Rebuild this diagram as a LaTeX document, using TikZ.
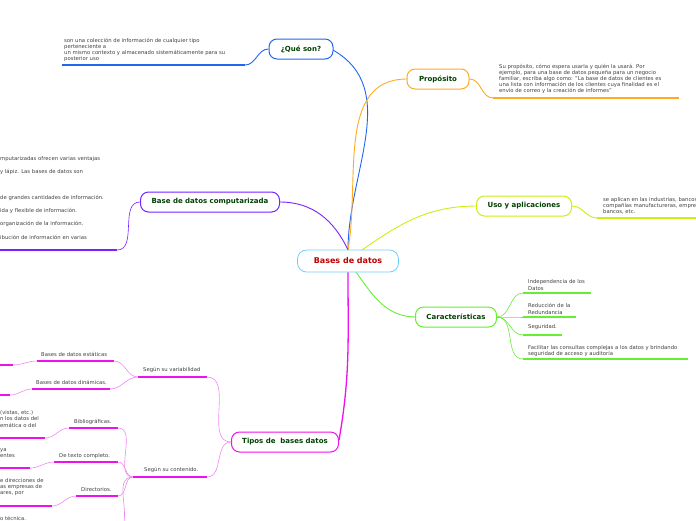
\documentclass[tikz,border=0pt]{standalone}
\usepackage{fontspec}
\setmainfont{DejaVu Sans}
\begin{document}
\begin{tikzpicture}[x=1pt,y=-1pt,
 topic/.style={draw=#1,line width=1pt,rounded corners=8pt,fill=white,minimum height=20pt,font=\fontsize{7}{8}\selectfont\bfseries,text=green!25!black},
 leaf/.style={font=\fontsize{5.3}{6.2}\selectfont,text=black!75,align=left,anchor=west,inner sep=0pt},
 ul/.style={draw=#1,line width=1.6pt},
 con/.style={draw=#1,line width=0.9pt}]
\useasboundingbox (0,0) rectangle (696,520);
\clip (0,0) rectangle (696,520);
\definecolor{cb}{HTML}{2266EE}
\definecolor{co}{HTML}{FFAA22}
\definecolor{cy}{HTML}{CCEE11}
\definecolor{cg}{HTML}{66EE33}
\definecolor{cp}{HTML}{7722FF}
\definecolor{cm}{HTML}{EE11EE}
\definecolor{cl}{HTML}{F388F3}
\coordinate (c) at (348,261);
% leaf coords
\coordinate (q1) at (245,65); \coordinate (q0) at (62,65);
\coordinate (p1) at (493,98); \coordinate (p2) at (679,98);
\coordinate (u1) at (597,218); \coordinate (u2) at (696,218);
\coordinate (b1) at (117,250); \coordinate (b0) at (0,250);
\coordinate (v1) at (207,377); \coordinate (v0) at (138,377);
\coordinate (n1) at (207,477); \coordinate (n0) at (133,477);
\coordinate (ctop) at (348,250); \coordinate (cbot) at (348,272);
\coordinate (cne) at (362,250); \coordinate (cse) at (356,272);
\coordinate (qe) at (333,50); \coordinate (te) at (339,440);
% main connectors
\draw[con=cb] (ctop) to[out=90,in=-30] (qe);
\draw[con=co] (ctop) to[out=80,in=180] (407,79);
\draw[con=cy] (cne) to[out=35,in=180] (477,206);
\draw[con=cg] (cse) to[out=-55,in=180] (416,317);
\draw[con=cp] (ctop) to[out=115,in=0] (280,202);
\draw[con=cm, line width=1.3pt] (cbot) to[out=-90,in=80] (te);
\node[topic=cb, minimum width=64pt] (que) at (301,49) {¿Qué son?};
\node[topic=co, minimum width=62pt] (pro) at (438,79) {Propósito};
\node[topic=cy, minimum width=95pt] (uso) at (524,206) {Uso y aplicaciones};
\node[topic=cg, minimum width=81pt] (car) at (456,317) {Características};
\node[topic=cp, minimum width=139pt] (bdc) at (210,202) {Base de datos computarizada};
\node[topic=cm, minimum width=107pt] (tip) at (285,442) {Tipos de\ \ bases datos};
% leaves
\draw[con=cb] (q1) to[out=0,in=180] (que.west);
\draw[ul=cb] (q0) -- (q1);
\node[leaf] at (64,50) {son una colección de información de cualquier tipo\\perteneciente a\\un mismo contexto y almacenado sistemáticamente para su\\posterior uso};
\draw[con=co] (pro.east) to[out=0,in=180] (p1);
\draw[ul=co] (p1) -- (p2);
\node[leaf] at (499,79) {Su propósito, cómo espera usarla y quién la usará. Por\\ejemplo, para una base de datos pequeña para un negocio\\familiar, escriba algo como: "La base de datos de clientes es\\una lista con información de los clientes cuya finalidad es el\\envío de correo y la creación de informes"};
\draw[con=cy] (uso.east) to[out=0,in=180] (u1);
\draw[ul=cy] (u1) -- (u2);
\node[leaf] at (603,206) {se aplican en las industrias, bancos,\\compañías manufactureras, empresas,\\bancos, etc.};
% caracteristicas
\foreach \y/\x/\t [count=\i] in {293/591/{Independencia de los\\Datos},317/576/{Reducción de la\\Redundancia},335/562/{Seguridad.},359/688/{Facilitar las consultas complejas a los datos y brindando\\seguridad de acceso y auditoría}}{
 \coordinate (k\i) at (523,\y);
 \draw[con=cg,line width=0.6pt] (car.east) to[out=0,in=180] (k\i);
 \draw[ul=cg] (k\i) -- (\x,\y);
 \node[leaf] at (528,\y-8) {\t};
}
% computarizada
\draw[con=cp,line width=0.6pt] (bdc.west) to[out=180,in=0] (b1);
\draw[ul=cp] (b0) -- (b1);
\node[leaf] at (0,159) {mputarizadas ofrecen varias ventajas};
\node[leaf] at (0,172) {y lápiz. Las bases de datos son};
\node[leaf] at (0,198) {de grandes cantidades de información.};
\node[leaf] at (0,211) {ida y flexible de información.};
\node[leaf] at (0,224) {organización de la información.};
\node[leaf] at (0,237) {ibución de información en varias};
% tipos
\draw[con=cl,line width=0.6pt] (tip.west) to[out=180,in=0] (v1);
\draw[con=cl,line width=0.6pt] (tip.west) to[out=180,in=0] (n1);
\draw[ul=cm] (v0) -- (v1); \node[leaf] at (143,370) {Según su variabilidad};
\draw[ul=cm] (n0) -- (n1); \node[leaf] at (144,470) {Según su contenido.};
\foreach \a/\b/\y/\t/\e/\f in {37/114/361/{Bases de datos estáticas}/13/365, 32/110/389/{Bases de datos dinámicas.}/10/395}{
 \draw[con=cl,line width=0.6pt] (v0) to[out=180,in=0] (\b,\y);
 \draw[ul=cm] (\a,\y) -- (\b,\y);
 \node[leaf] at (\a+4,\y-7) {\t};
 \draw[con=cl,line width=0.6pt] (\a,\y) to[out=180,in=0] (\e,\f);
 \draw[ul=cm] (0,\f) -- (\e,\f);
}
\foreach \a/\y/\t/\e/\f in {69/428/{Bibliográficas.}/45/438, 54/462/{De texto completo.}/30/468, 76/496/{Directorios.}/52/506}{
 \draw[con=cl,line width=0.6pt] (n0) to[out=180,in=0] (118,\y);
 \draw[ul=cm] (\a,\y) -- (118,\y);
 \node[leaf] at (\a+5,\y-6) {\t};
 \draw[con=cl,line width=0.6pt] (\a,\y) to[out=180,in=0] (\e,\f);
 \draw[ul=cm] (0,\f) -- (\e,\f);
}
\draw[con=cl,line width=0.6pt] (n0) to[out=180,in=80] (124,522);
\node[leaf] at (0,419) {(vistas, etc.)\\n los datos del\\emática o del};
\node[leaf] at (0,453) {ya\\entes};
\node[leaf] at (0,487) {e direcciones de\\as empresas de\\ares, por};
\node[leaf] at (0,518) {o técnica.};
% center
\node[draw=cb!50!cyan!60,line width=0.8pt,rounded corners=9pt,fill=white,minimum width=101pt,minimum height=22pt,font=\fontsize{8}{9}\selectfont\bfseries,text=red!75!black] (ctr) at (c) {Bases de datos};
\end{tikzpicture}
\end{document}
